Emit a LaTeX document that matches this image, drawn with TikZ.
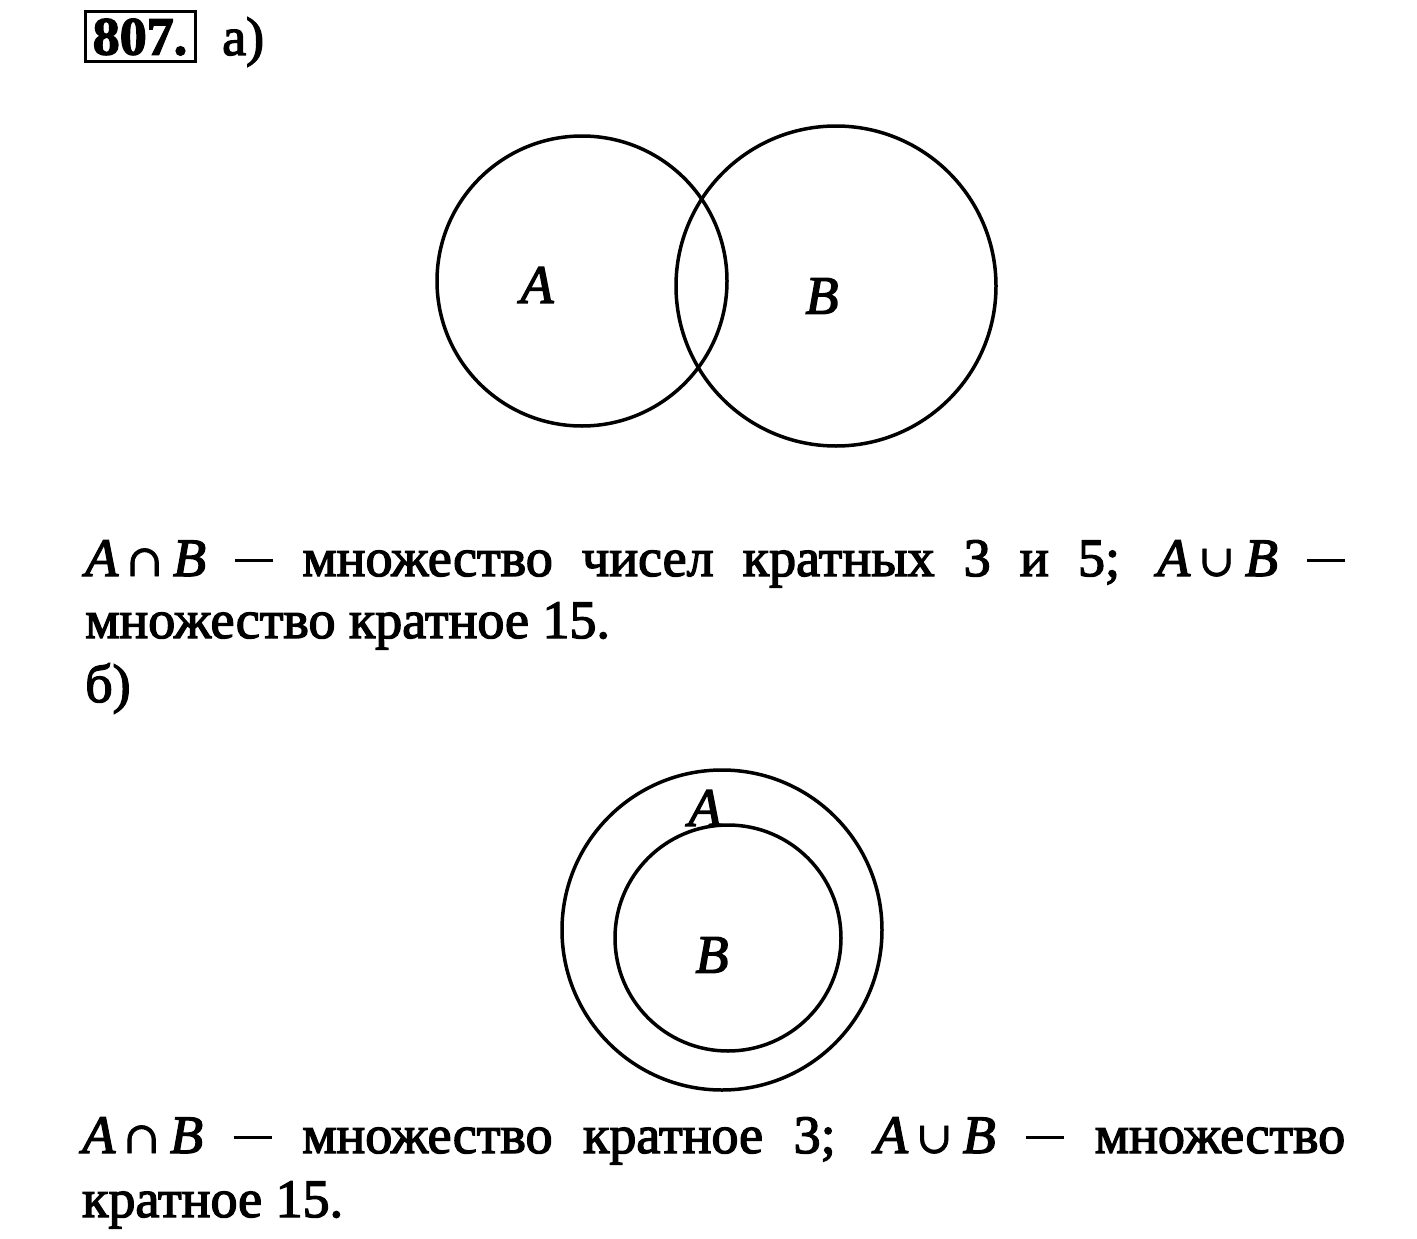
\documentclass[tikz,border=0pt]{standalone}
\usepackage{fontspec}
\setmainfont{Liberation Serif}[BoldFont={Liberation Serif Bold}, RawFeature={embolden=2.5}]
\newfontfamily\letfont{Liberation Serif Italic}[RawFeature={embolden=2.5}]
\newfontfamily\opfont{DejaVu Serif}[RawFeature={embolden=1.5}]
\tikzset{
  lbl/.style={inner sep=0pt, font=\fontsize{54}{60}\selectfont},
  txt/.style={inner sep=0pt, anchor=base west, font=\fontsize{54}{60}\selectfont},
  ring/.style={line width=3.5pt}
}
\newcommand{\mA}{{\letfont A}}
\newcommand{\mB}{{\letfont B}}
\newcommand{\cp}{{\opfont\fontsize{44}{50}\selectfont ∩}}
\newcommand{\cu}{{\opfont\fontsize{44}{50}\selectfont ∪}}
\newcommand{\dsh}{\rule[14pt]{38pt}{3.5pt}}
\begin{document}
\begin{tikzpicture}[x=1pt,y=-1pt]
\useasboundingbox (0,0) rectangle (1417,1239);
% а)
\node[draw, line width=3pt, inner sep=0pt, minimum width=110pt, minimum height=50pt,
  font=\fontsize{54}{60}\selectfont\bfseries] (num) at (140,37) {807.};
\node[txt] (pa) at (222,55) {а)};
\draw[ring] (582,281) circle (145);
\draw[ring] (836,286) circle (160);
\node[lbl] (la) at (537,285) {\mA};
\node[lbl] (lb) at (822,296) {\mB};
\node[txt] (t1) at (85,576) {\makebox[1260pt][s]{\mA\kern8pt\cp\kern10pt\mB\ \dsh\ множество чисел кратных 3 и 5; \mA\kern8pt\cu\kern10pt\mB\ \dsh}};
\node[txt] (t2) at (85,638) {множество кратное 15.};
% б)
\node[txt] (pb) at (85,702) {б)};
\draw[ring] (722,930) circle (160);
\draw[ring] (728,938) circle (113);
\node[lbl] (la2) at (705,808) {\mA};
\node[lbl] (lb2) at (712,955) {\mB};
\node[txt] (t3) at (82,1153) {\makebox[1263pt][s]{\mA\kern8pt\cp\kern10pt\mB\ \dsh\ множество кратное 3; \mA\kern8pt\cu\kern10pt\mB\ \dsh\ множество}};
\node[txt] (t4) at (82,1217) {кратное 15.};
\end{tikzpicture}
\end{document}
